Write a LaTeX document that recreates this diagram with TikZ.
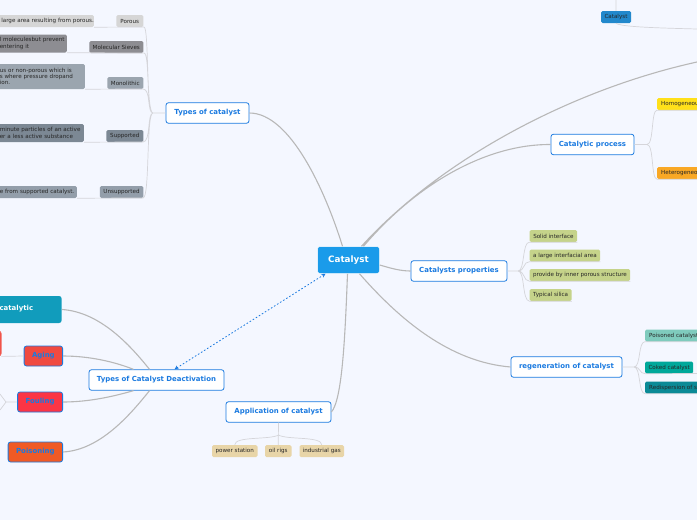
\documentclass[tikz,border=0pt]{standalone}
\usepackage{fontspec}
\setmainfont{DejaVu Sans}
\definecolor{pagebg}{HTML}{F4F7FF}
\definecolor{linkgray}{HTML}{B8B8B8}
\definecolor{forkgray}{HTML}{D5D5DA}
\definecolor{hubblue}{HTML}{1A7AE0}
\definecolor{rootblue}{HTML}{1A9BEA}
\definecolor{porousgray}{HTML}{D6D6D6}
\definecolor{sievegray}{HTML}{8D8D92}
\definecolor{slategray}{HTML}{9BA5AF}
\definecolor{steelgray}{HTML}{7C8894}
\definecolor{unsupgray}{HTML}{939EAA}
\definecolor{coupledteal}{HTML}{119CBC}
\definecolor{agingred}{HTML}{F04A40}
\definecolor{foulred}{HTML}{FB3545}
\definecolor{poisonorange}{HTML}{F05A25}
\definecolor{oliveleaf}{HTML}{C5D38A}
\definecolor{sandleaf}{HTML}{E8D5A8}
\definecolor{mintleaf}{HTML}{7FCBBD}
\definecolor{cokedteal}{HTML}{00A89A}
\definecolor{redispteal}{HTML}{0B8A96}
\definecolor{homogyellow}{HTML}{FFE01A}
\definecolor{heterogorange}{HTML}{F9A825}
\definecolor{topblue}{HTML}{2288CC}
\tikzset{
rootbox/.style={fill=rootblue, draw=white, line width=0.5pt, rounded corners=2.5pt, text=white, font=\fontsize{8.8}{10}\selectfont\bfseries, minimum width=62pt, minimum height=27pt, inner sep=0pt},
hubbox/.style={fill=white, draw=hubblue, line width=0.8pt, rounded corners=2.5pt, text=hubblue, font=\fontsize{6.95}{8}\selectfont\bfseries, minimum height=20.5pt, inner sep=0pt},
causebox/.style={draw=hubblue, line width=0.8pt, rounded corners=2.5pt, text=hubblue, font=\fontsize{6.95}{8}\selectfont\bfseries, minimum height=20pt, inner sep=0pt},
leafbox/.style={rounded corners=1.5pt, text=black!85, font=\fontsize{5.6}{6.3}\selectfont, minimum height=12pt, inner sep=0pt},
leftleaf/.style={leafbox, align=left, text width=#1, minimum width=#1},
link/.style={draw=linkgray, line width=1.1pt},
fork/.style={draw=forkgray, line width=0.7pt}
}
\begin{document}
\begin{tikzpicture}[x=1pt, y=-1pt]
\useasboundingbox (0,0) rectangle (697,520);
\clip (0,0) rectangle (697,520);
\fill[pagebg] (0,0) rectangle (697,520);

%root
\node[rootbox] (catalyst) at (348.5,260) {Catalyst};

%types of catalyst
\node[hubbox, minimum width=83pt] (types) at (207.5,113) {Types of catalyst};
\node[leafbox, fill=porousgray, minimum width=27pt, anchor=east] (porous) at (143.5,21) {Porous};
\node[leafbox, fill=porousgray, align=right, text width=150pt, anchor=east] (porousnote) at (94,21) {large area resulting from porous.\hspace{4pt}};
\node[leafbox, fill=sievegray, minimum width=54pt, anchor=east] (sieves) at (143.5,47) {Molecular Sieves};
\node[leftleaf=80pt, fill=sievegray, minimum height=18pt, anchor=east] (sievesnote) at (67,43.5) {\hspace{13pt}l moleculesbut prevent\\\hspace{13pt}entering it};
\node[leafbox, fill=slategray, minimum width=36pt, anchor=east] (monolith) at (143.5,83) {Monolithic};
\node[leftleaf=100pt, fill=slategray, minimum height=25pt, anchor=east] (monolithnote) at (85,76.5) {\hspace{15pt}us or non-porous which is\\\hspace{15pt}s where pressure dropand\\\hspace{15pt}ion.};
\node[leafbox, fill=steelgray, minimum width=37pt, anchor=east] (supported) at (143.5,136) {Supported};
\node[leftleaf=100pt, fill=steelgray, minimum height=18pt, anchor=east] (supportednote) at (84,133) {\hspace{16pt}minute particles of an active\\\hspace{16pt}er a less active substance};
\node[leafbox, fill=unsupgray, minimum width=43.5pt, anchor=east] (unsupported) at (143.5,192) {Unsupported};
\node[leftleaf=100pt, fill=unsupgray, anchor=east] (unsupportednote) at (77,192) {\hspace{23pt}e from supported catalyst.};

%deactivation
\node[hubbox, minimum width=135pt] (deact) at (156.5,380) {Types of Catalyst Deactivation};
\node[causebox, draw=none, fill=coupledteal, text=white, text width=90pt, minimum height=27pt, anchor=east, align=left] (coupled) at (62,309.5) {\hspace{28pt}\raisebox{2.5pt}{catalytic}};
\node[causebox, draw=agingred!85!white, fill=agingred, minimum width=20pt, minimum height=25pt, anchor=east] (agingnote) at (1.5,343.5) {};
\node[causebox, fill=agingred, minimum width=38.5pt, anchor=east] (aging) at (63,356) {Aging};
\node[causebox, fill=foulred, minimum width=45pt, anchor=east] (fouling) at (63,402) {Fouling};
\node[causebox, fill=poisonorange, minimum width=54.5pt, anchor=east] (poisoning) at (63,452) {Poisoning};
\coordinate (foulfork) at (6,402);
\coordinate (foulup) at (0,394);
\coordinate (fouldown) at (0,410);

%application
\node[hubbox, minimum width=105pt] (appl) at (278.5,412) {Application of catalyst};
\node[leafbox, fill=sandleaf, minimum width=45.5pt] (power) at (234.75,451) {power station};
\node[leafbox, fill=sandleaf, minimum width=26.5pt] (oilrigs) at (278.25,451) {oil rigs};
\node[leafbox, fill=sandleaf, minimum width=44.5pt] (gas) at (321.75,451) {industrial gas};

%properties
\node[hubbox, minimum width=96pt] (props) at (459,271) {Catalysts properties};
\node[leafbox, fill=oliveleaf, minimum width=47.5pt, anchor=west] (solid) at (529.5,236) {Solid interface};
\node[leafbox, fill=oliveleaf, minimum width=70.5pt, anchor=west] (area) at (529.5,255.5) {a large interfacial area};
\node[leafbox, fill=oliveleaf, minimum width=100.5pt, anchor=west] (inner) at (529.5,275) {provide by inner porous structure};
\node[leafbox, fill=oliveleaf, minimum width=42pt, anchor=west] (silica) at (529.5,295) {Typical silica};

%regeneration
\node[hubbox, minimum width=111pt] (regen) at (566.5,367) {regeneration of catalyst};
\node[leftleaf=70pt, fill=mintleaf, anchor=west] (poisoned) at (645,335.5) {\hspace{4pt}Poisoned catalyst};
\node[leafbox, fill=cokedteal, minimum width=48pt, anchor=west] (coked) at (645,367.5) {Coked catalyst};
\node[leftleaf=70pt, fill=redispteal, anchor=west] (redisp) at (645,387.5) {\hspace{4pt}Redispersion of s};
\coordinate (cokedout) at (697,373.5);

%catalytic process
\node[hubbox, minimum width=83pt] (process) at (592.5,144.5) {Catalytic process};
\node[leftleaf=60pt, fill=homogyellow, anchor=west] (homog) at (657,104) {\hspace{4pt}Homogeneous};
\node[leftleaf=60pt, fill=heterogorange, anchor=west] (heterog) at (657,173) {\hspace{4pt}Heterogeneous};

%top right
\node[leafbox, fill=topblue, minimum width=30pt, anchor=center] (topcat) at (616,17) {Catalyst};
\coordinate (topin) at (616,0);
\coordinate (topout) at (697,29);
\coordinate (farhub) at (697,62);

%main links
\draw[link]
(types.east) .. controls (290,113) and (325,190) .. ([xshift=-6pt]catalyst.north)
(farhub) .. controls (570,90) and (440,160) .. ([xshift=13pt]catalyst.north)
(process.west) .. controls (490,144) and (420,180) .. ([xshift=15pt]catalyst.north)
(props.west) .. controls (400,271) and (390,268) .. ([yshift=-5pt]catalyst.east)
(regen.west) .. controls (450,362) and (400,320) .. ([xshift=11pt]catalyst.south)
(appl.east) .. controls (342,400) and (345,340) .. ([xshift=-1pt]catalyst.south)
(coupled.east) .. controls (100,312) and (130,345) .. ([xshift=-7pt]deact.north)
(aging.east) .. controls (90,356) and (115,362) .. ([xshift=-23pt]deact.north)
(fouling.east) .. controls (90,402) and (115,396) .. ([xshift=-23pt]deact.south)
(poisoning.east) .. controls (100,450) and (130,415) .. ([xshift=-7pt]deact.south)
;

%dashed relation
\draw[hubblue, dash pattern=on 1.6pt off 2pt, line width=0.8pt, <->, >=stealth] ([xshift=18pt]deact.north) -- ([xshift=-23pt]catalyst.south);

%forks
\draw[fork]
(types.west) -- (153,113)
(153,113) .. controls (146,113) and (149,27) .. (144,27) -- (porousnote.south east) 
(153,113) .. controls (146,113) and (150,53) .. (144,53) -- (sievesnote.south east)
(153,113) .. controls (147,113) and (151,89) .. (143,89) -- (monolithnote.south east)
(153,113) .. controls (147,113) and (151,142) .. (143,142) -- (supportednote.south east)
(153,113) .. controls (146,113) and (150,198) .. (143,198) -- (unsupportednote.south east)
(agingnote.south east) -- (aging.west)
(fouling.west) -- (foulfork) -- (foulup)
(foulfork) -- (fouldown)
(appl.south) -- (oilrigs.north)
(278.5,435) .. controls (270,440) and (234.75,436) .. (power.north)
(278.5,435) .. controls (287,440) and (321.75,436) .. (gas.north)
(props.east) -- (518,271)
(518,271) .. controls (525,271) and (522,242) .. (solid.south west) -- (solid.south east)
(518,271) .. controls (525,271) and (523,261.5) .. (area.south west) -- (area.south east)
(518,271) .. controls (525,271) and (523,281) .. (inner.south west) -- (inner.south east)
(518,271) .. controls (525,271) and (522,301) .. (silica.south west) -- (silica.south east)
(regen.east) -- (634,367)
(634,367) .. controls (641,367) and (638,341.5) .. (poisoned.south west) -- (poisoned.south east)
(634,367) .. controls (641,367) and (639,373.5) .. (coked.south west) -- (cokedout)
(634,367) .. controls (641,367) and (638,393.5) .. (redisp.south west) -- (redisp.south east)
(process.east) -- (647,144.5)
(647,144.5) .. controls (654,144.5) and (651,110) .. (homog.south west) -- (homog.south east)
(647,144.5) .. controls (654,144.5) and (651,179) .. (heterog.south west) -- (heterog.south east)
(topin) -- (topcat.north)
(topcat.south) .. controls (620,27) and (660,28) .. (topout)
;
\end{tikzpicture}
\end{document}
